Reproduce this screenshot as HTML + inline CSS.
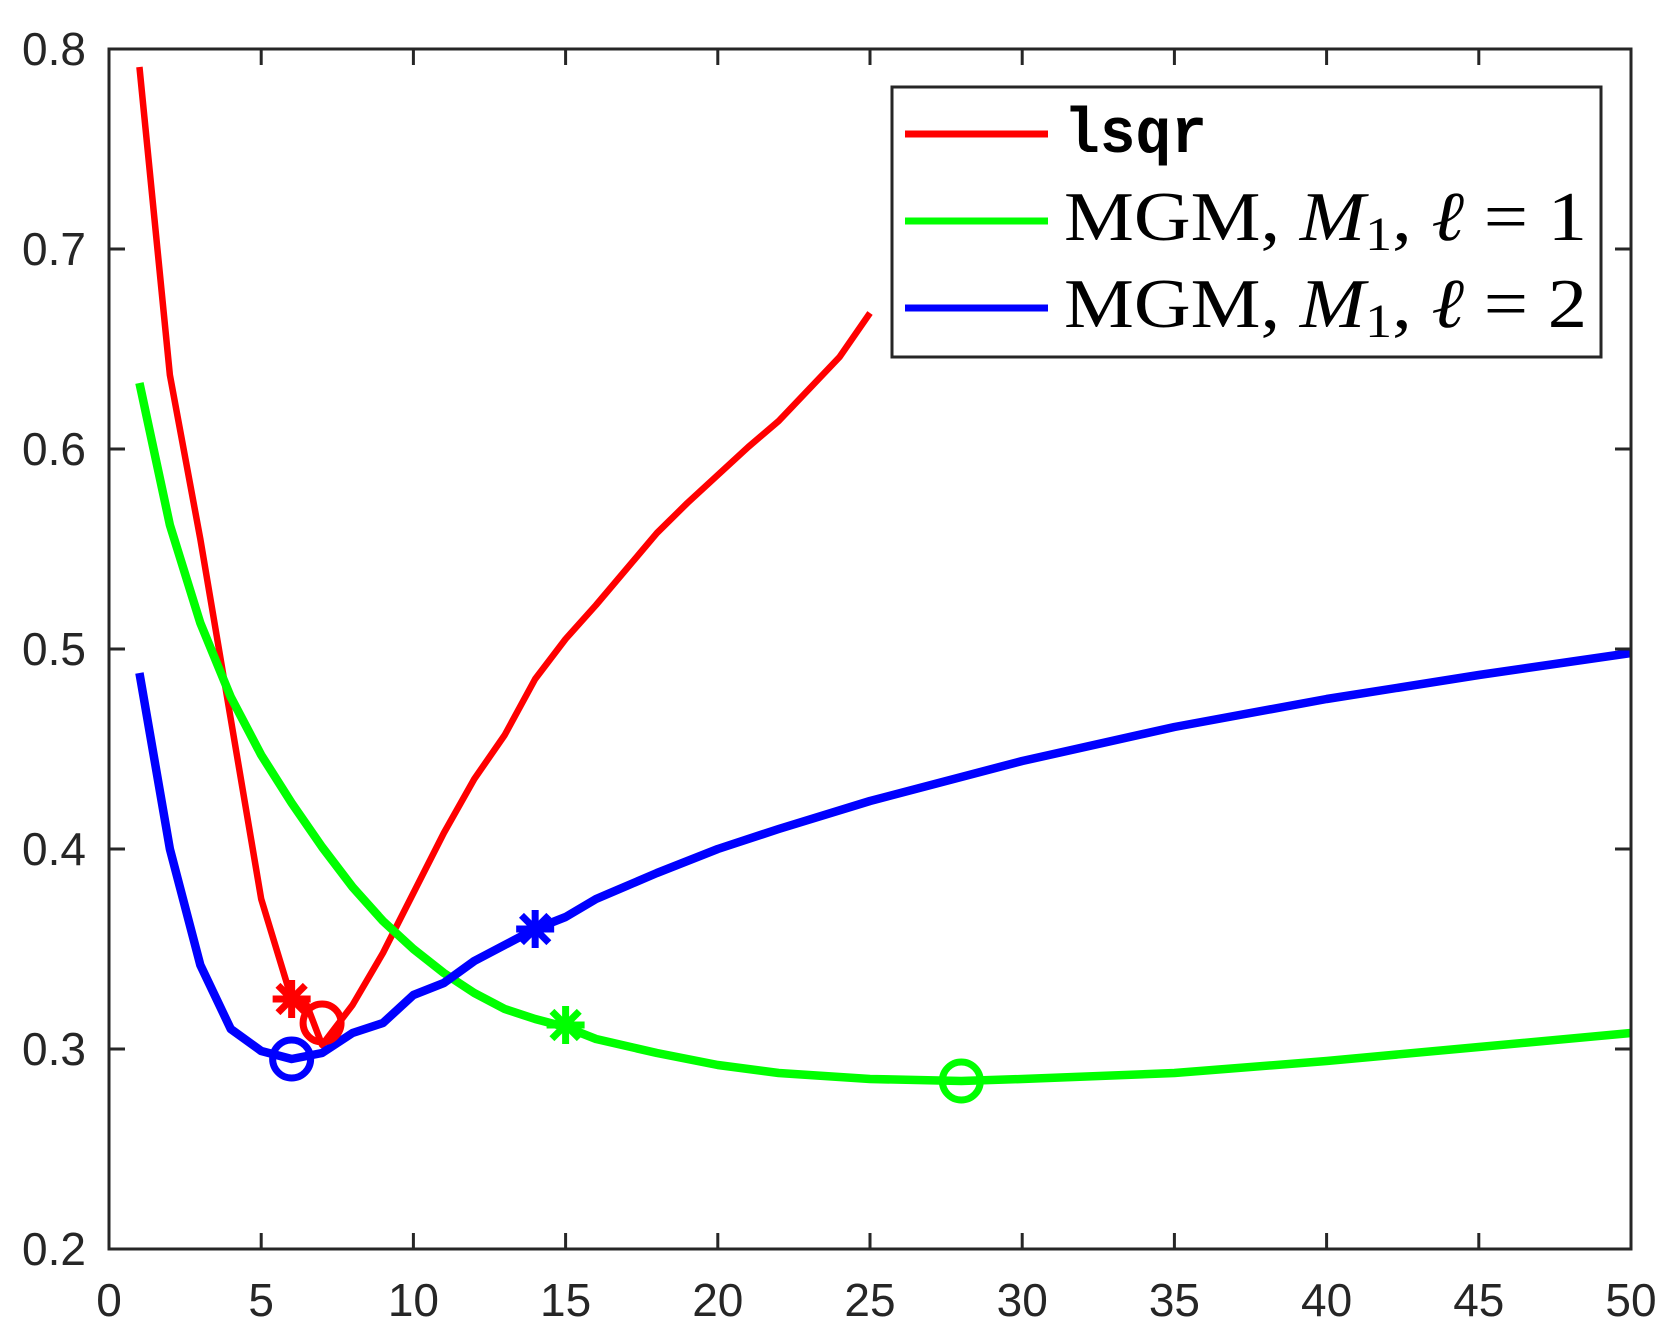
<!DOCTYPE html>
<html><head><meta charset="utf-8"><style>html,body{margin:0;padding:0;background:#fff}svg{display:block}</style></head>
<body>
<svg id="s" width="1680" height="1344" xmlns="http://www.w3.org/2000/svg">
<rect width="1680" height="1344" fill="#fff"/>
<g id="plot"></g>
<rect x="109" y="49" width="1522" height="1200" fill="none" stroke="#262626" stroke-width="3"/>
<g id="ticks" stroke="#262626" stroke-width="3"></g>
<g id="labels" font-family="Liberation Sans, sans-serif" font-size="46" fill="#262626"></g>
<rect x="892" y="87" width="709" height="270" fill="#fff" stroke="#262626" stroke-width="3"/>
<line x1="905" y1="134" x2="1048" y2="134" stroke="#ff0000" stroke-width="7"/>
<line x1="905" y1="221" x2="1048" y2="221" stroke="#00ff00" stroke-width="7"/>
<line x1="905" y1="308" x2="1048" y2="308" stroke="#0000ff" stroke-width="7"/>
<text x="1064" y="152" font-family="Liberation Mono, monospace" font-weight="bold" font-size="64" fill="#000" textLength="143" lengthAdjust="spacingAndGlyphs">lsqr</text>
<text x="1064" y="240" font-family="Liberation Serif, serif" font-size="70" fill="#000" textLength="523" lengthAdjust="spacingAndGlyphs">MGM, <tspan font-style="italic">M</tspan><tspan font-size="48" dy="10">1</tspan><tspan dy="-10">, </tspan><tspan font-style="italic">ℓ</tspan> = 1</text>
<text x="1064" y="327" font-family="Liberation Serif, serif" font-size="70" fill="#000" textLength="523" lengthAdjust="spacingAndGlyphs">MGM, <tspan font-style="italic">M</tspan><tspan font-size="48" dy="10">1</tspan><tspan dy="-10">, </tspan><tspan font-style="italic">ℓ</tspan> = 2</text>
</svg>
<script>
var X=function(x){return 109+x*30.44},Y=function(v){return 49+(0.8-v)*2000};
var ns="http://www.w3.org/2000/svg";
function el(p,t,a){var e=document.createElementNS(ns,t);for(var k in a)e.setAttribute(k,a[k]);p.appendChild(e);return e;}
var plot=document.getElementById('plot'),ticks=document.getElementById('ticks'),labels=document.getElementById('labels');
for(var i=0;i<=10;i++){var x=X(i*5);
 if(i>0&&i<10){el(ticks,'line',{x1:x,y1:1249,x2:x,y2:1233});el(ticks,'line',{x1:x,y1:49,x2:x,y2:65});}
 var t=el(labels,'text',{x:x,y:1316,'text-anchor':'middle'});t.textContent=String(i*5);}
for(var j=0;j<=6;j++){var v=0.2+j*0.1,y=Y(v);
 if(j>0&&j<6){el(ticks,'line',{x1:109,y1:y,x2:125,y2:y});el(ticks,'line',{x1:1631,y1:y,x2:1615,y2:y});}
 var t=el(labels,'text',{x:86,y:y+16,'text-anchor':'end'});t.textContent=v.toFixed(1);}
var red=[[1,.791],[2,.637],[3,.555],[4,.465],[5,.375],[6,.325],[6.5,.322],[7,.302],[8,.322],[9,.348],[10,.378],[11,.408],[12,.435],[13,.457],[14,.485],[15,.505],[16,.522],[17,.54],[18,.558],[19,.573],[20,.587],[21,.601],[22,.614],[23,.63],[24,.646],[25,.668]];
var green=[[1,.633],[2,.562],[3,.513],[4,.476],[5,.447],[6,.423],[7,.401],[8,.381],[9,.364],[10,.35],[11,.338],[12,.328],[13,.32],[14,.315],[15,.311],[16,.305],[18,.298],[20,.292],[22,.288],[25,.285],[28,.284],[30,.285],[35,.288],[40,.294],[45,.301],[50,.308]];
var blue=[[1,.488],[2,.40],[3,.342],[4,.31],[5,.299],[6,.295],[7,.298],[8,.308],[9,.313],[10,.327],[11,.333],[12,.344],[13,.352],[14,.36],[15,.366],[16,.375],[18,.388],[20,.40],[22,.41],[25,.424],[30,.444],[35,.461],[40,.475],[45,.487],[50,.498]];
function line(d,c,w){el(plot,'polyline',{points:d.map(function(p){return X(p[0])+','+Y(p[1])}).join(' '),fill:'none',stroke:c,'stroke-width':w,'stroke-linejoin':'round'});}
line(red,'#ff0000',6.5);line(green,'#00ff00',8.5);line(blue,'#0000ff',8.5);
function circ(x,v,c){el(plot,'circle',{cx:X(x),cy:Y(v),r:19,fill:'none',stroke:c,'stroke-width':7});}
function star(x,v,c){var cx=X(x),cy=Y(v),r=19;var g=el(plot,'g',{stroke:c,'stroke-width':7});
 el(g,'line',{x1:cx-r,y1:cy,x2:cx+r,y2:cy});el(g,'line',{x1:cx,y1:cy-r,x2:cx,y2:cy+r});
 var d=r*0.72;el(g,'line',{x1:cx-d,y1:cy-d,x2:cx+d,y2:cy+d});el(g,'line',{x1:cx-d,y1:cy+d,x2:cx+d,y2:cy-d});}
circ(7,.313,'#ff0000');star(6,.325,'#ff0000');
star(15,.312,'#00ff00');circ(28,.284,'#00ff00');
circ(6,.295,'#0000ff');star(14,.36,'#0000ff');
</script>
</body></html>
